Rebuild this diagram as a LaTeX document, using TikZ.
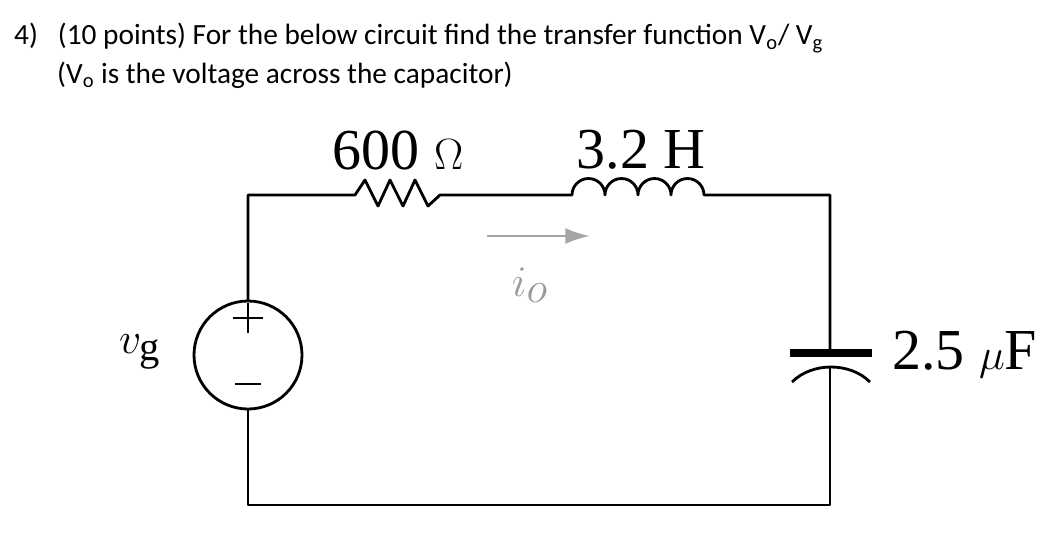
\documentclass[tikz,border=0pt]{standalone}
\usepackage{fontspec}
\usetikzlibrary{arrows.meta}
\setmainfont{Liberation Serif}
\newfontfamily\calfont{Carlito}
\begin{document}
\begin{tikzpicture}[x=0.02cm,y=-0.02cm,wire/.style={line width=1.6pt,line join=round},lab/.style={font=\fontsize{33}{35}\selectfont}]
\useasboundingbox (0,0) rectangle (1060,532);
\node[anchor=west,font=\calfont\fontsize{16.7}{20}\selectfont] (t1) at (8,38) {4)\ \ \ (10 points) For the below circuit find the transfer function V\textsubscript{o}/ V\textsubscript{g}};
\node[anchor=west,font=\calfont\fontsize{16.7}{20}\selectfont] (t2) at (51,75) {(V\textsubscript{o} is the voltage across the capacitor)};
\coordinate (tl) at (248,195); \coordinate (tr) at (830,195);
\coordinate (bl) at (248,505); \coordinate (br) at (830,505);
\coordinate (st) at (248,301); \coordinate (sb) at (248,409);
\draw[wire] (st) -- (tl) -- (355,195) -- (365,180) -- (378,206) -- (390,180) -- (403,206) -- (415,180) -- (428,206) -- (440,195) -- (572,195)
  arc[start angle=180,end angle=0,radius=0.33cm] arc[start angle=180,end angle=0,radius=0.33cm]
  arc[start angle=180,end angle=0,radius=0.33cm] arc[start angle=180,end angle=0,radius=0.33cm]
  -- (tr) -- (830,351);
\draw[wire] (830,367) -- (br) -- (bl) -- (sb);
\draw[line width=1.6pt,fill=white] (248,355) circle[radius=54];
\draw[line width=5pt] (790,353) -- (872,353);
\draw[wire] (792,382) .. controls (812,362) and (850,362) .. (870,382);
\draw[line width=1.1pt] (233,318) -- (263,318) (248,303) -- (248,333);
\draw[line width=1.1pt] (235,384) -- (261,384);
\node[lab] (vg) at (140,352) {$v_{\mathrm{g}}$};
\node[lab] (rl) at (398,150) {600 $\Omega$};
\node[lab] (ll) at (641,150) {3.2 H};
\node[lab,anchor=west] (cl) at (886,355) {2.5 $\mu$F};
\coordinate (a1) at (487,236); \coordinate (a2) at (590,236);
\draw[gray!70,line width=1.4pt,-{Latex[length=14pt,width=9pt]}] (a1) -- (a2);
\node[gray!80,lab] (io) at (530,285) {$i_o$};
\end{tikzpicture}
\end{document}
